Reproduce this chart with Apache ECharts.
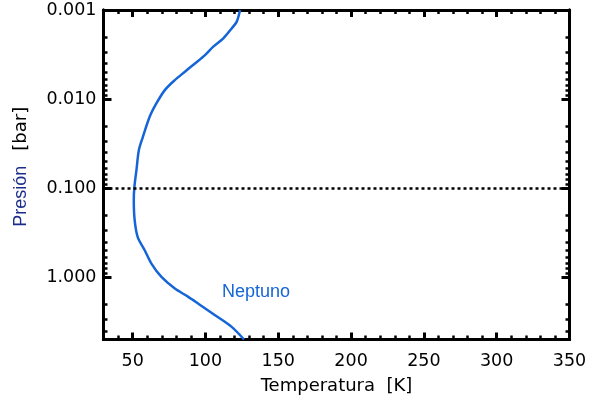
<!DOCTYPE html>
<html>
<head>
<meta charset="utf-8">
<script src="https://cdn.jsdelivr.net/npm/echarts@6/dist/echarts.min.js"></script>
<style>
html,body{margin:0;padding:0;background:#fff;}
#c{width:592px;height:401px;}
</style>
</head>
<body>
<div id="c"></div>
<script>
// ---- data ----
const temperatureK = [123.8, 121.5, 118.0, 112.3, 105.4, 99.7, 92.8, 85.9, 79.0, 72.1, 66.3, 61.7, 57.0, 54.3, 52.6, 51.2, 50.8, 51.4, 53.5, 58.3, 62.9, 69.8, 79.0, 88.2, 95.1, 106.6, 118.0, 126.5];
const pressureBar = [0.001, 0.00135, 0.00161, 0.00208, 0.00258, 0.00321, 0.00398, 0.00493, 0.00612, 0.00793, 0.0112, 0.0158, 0.0267, 0.0374, 0.0631, 0.0977, 0.136, 0.229, 0.355, 0.498, 0.702, 0.993, 1.34, 1.66, 1.98, 2.67, 3.61, 5.0];
const seriesName = 'Neptuno';
const seriesLabelAt = [111.4, 1.48];      // where the "Neptuno" text starts (data coords)
const refPressure = 0.1;                  // dotted reference line
const xMajorTicks = [50, 100, 150, 200, 250, 300, 350];
const yMajorTicks = [0.001, 0.01, 0.1, 1];
const yMinorTicks = [0.002,0.003,0.004,0.005,0.006,0.007,0.008,0.009,
                     0.02,0.03,0.04,0.05,0.06,0.07,0.08,0.09,
                     0.2,0.3,0.4,0.5,0.6,0.7,0.8,0.9,
                     2,3,4];
const xTitle = 'Temperatura  [K]';
const yTitleMain = 'Presión';
const yTitleUnit = '[bar]';

const tickFont = '"DejaVu Sans", sans-serif';
const black = '#000';
const blue = '#1565d8';

function xAxisDef(pos, major, withLabels) {
  const ax = {
    type: 'value', position: pos, min: 30, max: 350, gridIndex: 0,
    splitLine: { show: false },
    axisLine: { show: true, onZero: false, lineStyle: { color: black, width: 3 } },
    axisTick: { show: true, inside: true, length: major ? 7 : 4, lineStyle: { color: black, width: major ? 3 : 2.5 } },
    axisLabel: { show: false }
  };
  if (major) {
    ax.axisTick.customValues = xMajorTicks;
    ax.axisLabel = { show: withLabels, customValues: xMajorTicks, color: black, fontFamily: tickFont, fontSize: 17.5, margin: 13 };
  } else {
    ax.interval = 10;
  }
  if (withLabels) {
    ax.name = xTitle;
    ax.nameLocation = 'middle';
    ax.nameGap = 38;
    ax.nameTextStyle = { color: black, fontFamily: tickFont, fontSize: 18 };
  }
  return ax;
}

function yAxisDef(pos, major, withLabels) {
  const ax = {
    type: 'log', logBase: 10, position: pos, min: 0.001, max: 5, inverse: true, gridIndex: 0,
    splitLine: { show: false },
    axisLine: { show: true, onZero: false, lineStyle: { color: black, width: 3 } },
    axisTick: { show: true, inside: true, length: major ? 8 : 4, lineStyle: { color: black, width: major ? 3 : 2.5 },
                customValues: major ? yMajorTicks : yMinorTicks },
    axisLabel: { show: false }
  };
  if (withLabels) {
    ax.axisLabel = { show: true, customValues: yMajorTicks, color: black, fontFamily: tickFont, fontSize: 17.5, margin: 7,
      formatter: v => Number(v).toFixed(3) };
    ax.name = '{a|' + yTitleMain + '}{b|' + yTitleUnit + '}';
    ax.nameLocation = 'middle';
    ax.nameGap = 73;
    ax.nameTextStyle = {
      color: black, fontFamily: tickFont, fontSize: 18,
      rich: {
        a: { color: '#1c2c8c', fontFamily: '"Liberation Sans", Arial, sans-serif', fontSize: 18, padding: [0, 0, 0, 16] },
        b: { color: black, fontFamily: tickFont, fontSize: 18, padding: [0, 0, 0, 15] }
      }
    };
  }
  return ax;
}

const chart = echarts.init(document.getElementById('c'), null, { renderer: 'canvas' });
chart.setOption({
  animation: false,
  backgroundColor: '#fff',
  grid: { left: 103.5, right: 22.5, top: 10, bottom: 61.5, containLabel: false },
  xAxis: [
    xAxisDef('bottom', true, true),
    xAxisDef('bottom', false, false),
    xAxisDef('top', true, false),
    xAxisDef('top', false, false)
  ],
  yAxis: [
    yAxisDef('left', true, true),
    yAxisDef('left', false, false),
    yAxisDef('right', true, false),
    yAxisDef('right', false, false)
  ],
  series: [{
    name: seriesName,
    type: 'line',
    xAxisIndex: 0, yAxisIndex: 0,
    data: temperatureK.map((t, i) => [t, pressureBar[i]]),
    showSymbol: false,
    smooth: 0.3,
    clip: true,
    lineStyle: { color: blue, width: 2.5 },
    markLine: {
      silent: true,
      symbol: ['none', 'none'],
      label: { show: false },
      lineStyle: { color: black, width: 2.5, type: [3, 3] },
      data: [{ yAxis: refPressure }]
    },
    markPoint: {
      silent: true,
      symbol: 'circle', symbolSize: 0,
      label: { show: true, position: 'right', distance: 0, formatter: seriesName,
               color: blue, fontFamily: '"Liberation Sans", Arial, sans-serif', fontSize: 18 },
      data: [{ coord: seriesLabelAt }]
    }
  }]
});
</script>
</body>
</html>
